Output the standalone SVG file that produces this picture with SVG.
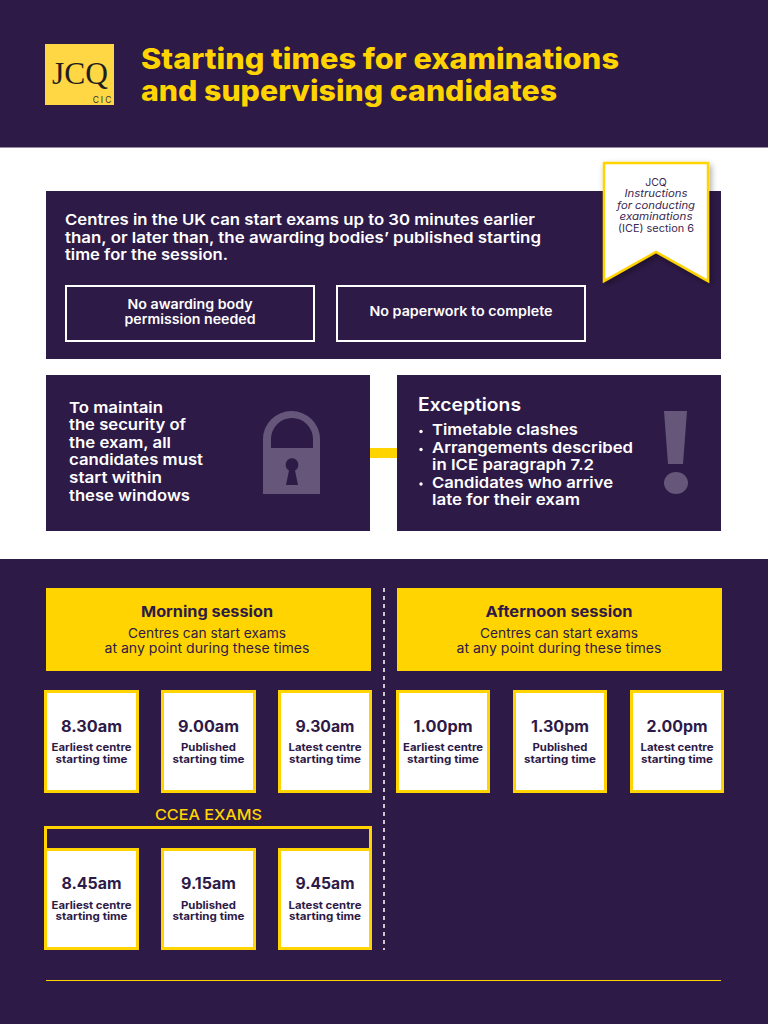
<svg xmlns="http://www.w3.org/2000/svg" width="768" height="1024" viewBox="0 0 768 1024">
<defs>
<style>
text{font-family:Inter,"Liberation Sans",sans-serif;}
.band{fill:#2e1a47}
.title{fill:#ffd400;font-size:28px;font-weight:800}
.w{fill:#fff;font-weight:600}
.b15{font-size:15px}
.tag{fill:none;stroke:#fff;stroke-width:2}
.m{text-anchor:middle}
.sub{font-size:13px}
.head{fill:#2e1a47;font-size:15px;font-weight:700;text-anchor:middle}
.note{fill:#2e1a47;font-size:13px;font-weight:400;text-anchor:middle}
.card{fill:#fff;stroke:#ffd400;stroke-width:3}
.time{fill:#2e1a47;font-size:15.5px;font-weight:700;text-anchor:middle}
.lab{fill:#2e1a47;font-size:10.5px;font-weight:700;text-anchor:middle}
.ghost{fill:#66567a}
.rib{fill:#3a2853;font-size:10.5px;text-anchor:middle}
</style>
<filter id="sh" x="-20%" y="-20%" width="150%" height="150%"><feDropShadow dx="2" dy="3" stdDeviation="3" flood-color="#000" flood-opacity=".35"/></filter>
</defs>
<rect width="768" height="1024" fill="#fff"/>
<rect class="band" width="768" height="147.500"/>
<rect class="band" y="559" width="768" height="465"/>
<g id="logo">
<rect x="45" y="44" width="69" height="61" fill="#ffd644"/>
<text x="80" y="84" text-anchor="middle" font-size="31" fill="#1f1f1f" textLength="56" lengthAdjust="spacingAndGlyphs" style="font-family:'Liberation Serif',serif">JCQ</text>
<text x="103" y="102.500" text-anchor="middle" font-size="8.500" fill="#333" letter-spacing="2">CIC</text>
</g>
<g id="title">
<text class="title" x="141" y="69" textLength="478" lengthAdjust="spacingAndGlyphs">Starting times for examinations</text>
<text class="title" x="141" y="101" textLength="416" lengthAdjust="spacingAndGlyphs">and supervising candidates</text>
</g>
<g id="intro">
<rect class="band" x="46" y="191" width="675" height="168"/>
<text class="w b15" x="65" y="225" textLength="470" lengthAdjust="spacingAndGlyphs">Centres in the UK can start exams up to 30 minutes earlier</text>
<text class="w b15" x="65" y="243" textLength="476" lengthAdjust="spacingAndGlyphs">than, or later than, the awarding bodies’ published starting</text>
<text class="w b15" x="65" y="260" textLength="163" lengthAdjust="spacingAndGlyphs">time for the session.</text>
</g>
<g id="no-permission">
<rect class="tag" x="66" y="286" width="248" height="55"/>
<text class="w sub m" x="190" y="309" textLength="125" lengthAdjust="spacingAndGlyphs">No awarding body</text>
<text class="w sub m" x="190" y="324" textLength="131" lengthAdjust="spacingAndGlyphs">permission needed</text>
</g>
<g id="no-paperwork">
<rect class="tag" x="337" y="286" width="248" height="55"/>
<text class="w sub m" x="461" y="316" textLength="183" lengthAdjust="spacingAndGlyphs">No paperwork to complete</text>
</g>
<g id="ribbon">
<path d="M604 163H708V281L656 252L604 281Z" fill="#fff" stroke="#ffd400" stroke-width="2.500" filter="url(#sh)"/>
<text class="rib" x="656" y="185.500">JCQ</text>
<text class="rib" font-style="italic" x="656" y="197" textLength="63" lengthAdjust="spacingAndGlyphs">Instructions</text>
<text class="rib" font-style="italic" x="656" y="208.500" textLength="78" lengthAdjust="spacingAndGlyphs">for conducting</text>
<text class="rib" font-style="italic" x="656" y="220" textLength="73" lengthAdjust="spacingAndGlyphs">examinations</text>
<text class="rib" x="656" y="232" textLength="76" lengthAdjust="spacingAndGlyphs">(ICE) section 6</text>
</g>
<g id="connectors">
<rect x="370" y="448" width="27" height="10" fill="#ffd400"/>
<line x1="384" y1="588" x2="384" y2="950" stroke="#fff" stroke-width="1.500" stroke-dasharray="4 4"/>
<line x1="46" y1="980.500" x2="721" y2="980.500" stroke="#ffd400" stroke-width="1"/>
</g>
<g id="security">
<rect class="band" x="46" y="375" width="324" height="156"/>
<text class="w b15" x="69" y="413" textLength="94" lengthAdjust="spacingAndGlyphs">To maintain</text>
<text class="w b15" x="69" y="430" textLength="117" lengthAdjust="spacingAndGlyphs">the security of</text>
<text class="w b15" x="69" y="448" textLength="102" lengthAdjust="spacingAndGlyphs">the exam, all</text>
<text class="w b15" x="69" y="465" textLength="134" lengthAdjust="spacingAndGlyphs">candidates must</text>
<text class="w b15" x="69" y="483" textLength="93" lengthAdjust="spacingAndGlyphs">start within</text>
<text class="w b15" x="69" y="501" textLength="121" lengthAdjust="spacingAndGlyphs">these windows</text>
<path class="ghost" fill-rule="evenodd" d="M263 494V439A28.500 28 0 0 1 320 439V494ZM271 448H313V439A21 21 0 0 0 271 439Z"/>
<path class="band" d="M289 470.500A6.500 6.500 0 1 1 295 470.500L298 485H286Z"/>
</g>
<g id="exceptions">
<rect class="band" x="397" y="375" width="324" height="156"/>
<text class="w" x="418" y="411" font-size="18" textLength="103" lengthAdjust="spacingAndGlyphs">Exceptions</text>
<circle cx="421" cy="431.500" r="1.700" fill="#fff"/>
<text class="w b15" x="432" y="435" textLength="146" lengthAdjust="spacingAndGlyphs">Timetable clashes</text>
<circle cx="421" cy="449.500" r="1.700" fill="#fff"/>
<text class="w b15" x="432" y="453" textLength="201" lengthAdjust="spacingAndGlyphs">Arrangements described</text>
<text class="w b15" x="432" y="470" textLength="162" lengthAdjust="spacingAndGlyphs">in ICE paragraph 7.2</text>
<circle cx="421" cy="484" r="1.700" fill="#fff"/>
<text class="w b15" x="432" y="488" textLength="181" lengthAdjust="spacingAndGlyphs">Candidates who arrive</text>
<text class="w b15" x="432" y="505" textLength="148" lengthAdjust="spacingAndGlyphs">late for their exam</text>
<path class="ghost" d="M664 411H687L683 464H668Z"/>
<ellipse class="ghost" cx="676" cy="483" rx="12" ry="11"/>
</g>
<g id="morning">
<rect x="46" y="588" width="325" height="83" fill="#ffd400"/>
<text class="head" x="207" y="617" textLength="132" lengthAdjust="spacingAndGlyphs">Morning session</text>
<text class="note" x="207" y="638" textLength="158" lengthAdjust="spacingAndGlyphs">Centres can start exams</text>
<text class="note" x="207" y="653" textLength="205" lengthAdjust="spacingAndGlyphs">at any point during these times</text>
</g>
<g id="afternoon">
<rect x="397" y="588" width="325" height="83" fill="#ffd400"/>
<text class="head" x="559" y="617" textLength="147" lengthAdjust="spacingAndGlyphs">Afternoon session</text>
<text class="note" x="559" y="638" textLength="158" lengthAdjust="spacingAndGlyphs">Centres can start exams</text>
<text class="note" x="559" y="653" textLength="205" lengthAdjust="spacingAndGlyphs">at any point during these times</text>
</g>
<g id="am-830"><rect class="card" x="45.500" y="691.500" width="92" height="100"/><text class="time" x="91.500" y="732" textLength="61" lengthAdjust="spacingAndGlyphs">8.30am</text><text class="lab" x="91.500" y="751" textLength="80" lengthAdjust="spacingAndGlyphs">Earliest centre</text><text class="lab" x="91.500" y="763" textLength="72" lengthAdjust="spacingAndGlyphs">starting time</text></g>
<g id="am-900"><rect class="card" x="162.500" y="691.500" width="92" height="100"/><text class="time" x="208.500" y="732" textLength="61" lengthAdjust="spacingAndGlyphs">9.00am</text><text class="lab" x="208.500" y="751" textLength="55" lengthAdjust="spacingAndGlyphs">Published</text><text class="lab" x="208.500" y="763" textLength="72" lengthAdjust="spacingAndGlyphs">starting time</text></g>
<g id="am-930"><rect class="card" x="279.500" y="691.500" width="91" height="100"/><text class="time" x="325" y="732" textLength="59" lengthAdjust="spacingAndGlyphs">9.30am</text><text class="lab" x="325" y="751" textLength="73" lengthAdjust="spacingAndGlyphs">Latest centre</text><text class="lab" x="325" y="763" textLength="72" lengthAdjust="spacingAndGlyphs">starting time</text></g>
<g id="pm-100"><rect class="card" x="397.500" y="691.500" width="91" height="100"/><text class="time" x="443" y="732" textLength="59" lengthAdjust="spacingAndGlyphs">1.00pm</text><text class="lab" x="443" y="751" textLength="80" lengthAdjust="spacingAndGlyphs">Earliest centre</text><text class="lab" x="443" y="763" textLength="72" lengthAdjust="spacingAndGlyphs">starting time</text></g>
<g id="pm-130"><rect class="card" x="514.500" y="691.500" width="91" height="100"/><text class="time" x="560" y="732" textLength="58" lengthAdjust="spacingAndGlyphs">1.30pm</text><text class="lab" x="560" y="751" textLength="55" lengthAdjust="spacingAndGlyphs">Published</text><text class="lab" x="560" y="763" textLength="72" lengthAdjust="spacingAndGlyphs">starting time</text></g>
<g id="pm-200"><rect class="card" x="631.500" y="691.500" width="91" height="100"/><text class="time" x="677" y="732" textLength="61" lengthAdjust="spacingAndGlyphs">2.00pm</text><text class="lab" x="677" y="751" textLength="73" lengthAdjust="spacingAndGlyphs">Latest centre</text><text class="lab" x="677" y="763" textLength="72" lengthAdjust="spacingAndGlyphs">starting time</text></g>
<g id="ccea">
<text x="208.500" y="820" text-anchor="middle" fill="#ffd400" font-size="15" font-weight="500" textLength="107" lengthAdjust="spacingAndGlyphs">CCEA EXAMS</text>
<path d="M45.500 850V827.500H370.500V850" fill="none" stroke="#ffd400" stroke-width="3"/>
</g>
<g id="ccea-845"><rect class="card" x="45.500" y="849.500" width="92" height="99"/><text class="time" x="91.500" y="889" textLength="60" lengthAdjust="spacingAndGlyphs">8.45am</text><text class="lab" x="91.500" y="909" textLength="80" lengthAdjust="spacingAndGlyphs">Earliest centre</text><text class="lab" x="91.500" y="920" textLength="72" lengthAdjust="spacingAndGlyphs">starting time</text></g>
<g id="ccea-915"><rect class="card" x="162.500" y="849.500" width="92" height="99"/><text class="time" x="208.500" y="889" textLength="55" lengthAdjust="spacingAndGlyphs">9.15am</text><text class="lab" x="208.500" y="909" textLength="55" lengthAdjust="spacingAndGlyphs">Published</text><text class="lab" x="208.500" y="920" textLength="72" lengthAdjust="spacingAndGlyphs">starting time</text></g>
<g id="ccea-945"><rect class="card" x="279.500" y="849.500" width="91" height="99"/><text class="time" x="325" y="889" textLength="59" lengthAdjust="spacingAndGlyphs">9.45am</text><text class="lab" x="325" y="909" textLength="73" lengthAdjust="spacingAndGlyphs">Latest centre</text><text class="lab" x="325" y="920" textLength="72" lengthAdjust="spacingAndGlyphs">starting time</text></g>
</svg>
